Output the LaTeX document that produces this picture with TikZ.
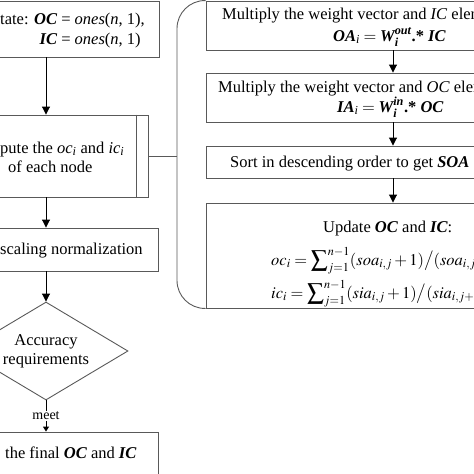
\documentclass[tikz,border=0pt]{standalone}
\usepackage{amsmath}
\usepackage{mathptmx}
\usepackage{fontspec}
\setmainfont{Liberation Serif}
\usetikzlibrary{arrows.meta,shapes.geometric}
\newcommand{\bfi}[1]{\textbf{\textit{#1}}}
\begin{document}
\begin{tikzpicture}[x=1pt,y=-1pt,
  font=\fontsize{16.5}{20}\selectfont,
  box/.style={draw=black!65, line width=0.9pt, inner sep=0pt},
  boxline/.style={draw=black!65, line width=0.9pt},
  arr/.style={draw=black, line width=0.9pt, -{Triangle[length=8pt,width=8pt]}},
  sarr/.style={draw=black, line width=0.9pt, -{Triangle[length=5pt,width=6pt]}},
  txt/.style={inner sep=0pt},
  eq/.style={inner sep=0pt, font=\fontsize{16.5}{20}\selectfont}]
\useasboundingbox (0,0) rectangle (474,474);
% left column
\node[box, minimum width=226pt, minimum height=56pt] (b1) at (46,29) {};
\node[box, minimum width=204pt, minimum height=82pt] (b2) at (46,156) {};
\draw[boxline] ([xshift=-12pt]b2.north east) -- ([xshift=-12pt]b2.south east);
\draw[boxline] ([xshift=12pt]b2.north west) -- ([xshift=12pt]b2.south west);
\node[box, minimum width=224pt, minimum height=43pt] (b3) at (46,249.5) {};
\node[box, diamond, minimum width=164pt, minimum height=98pt] (d) at (46,351) {};
\node[box, minimum width=224pt, minimum height=60pt] (b4) at (46,462) {};
% right column
\node[box, minimum width=374pt, minimum height=49pt] (r1) at (393,25.5) {};
\node[box, minimum width=374pt, minimum height=49pt] (r2) at (393,97.5) {};
\node[box, minimum width=374pt, minimum height=32pt] (r3) at (393,162) {};
\node[box, minimum width=374pt, minimum height=105pt] (r4) at (393,255.5) {};
% texts
\node[txt, anchor=north west] (t1) at (0,10) {\begin{tabular}{@{}r@{ }l@{}}tate: \bfi{OC} & = \textit{ones}(\textit{n}, 1),\\ \bfi{IC} & = \textit{ones}(\textit{n}, 1)\end{tabular}};
\node[txt, anchor=base west] (t2a) at (0,153) {pute the \textit{oc}\textsubscript{\textit{i}} and \textit{ic}\textsubscript{\textit{i}}};
\node[txt, anchor=base west] (t2b) at (8,172) {of each node};
\node[txt, anchor=base west] (t3) at (0,254) {scaling normalization};
\node[txt, anchor=base] (td1) at (46,345) {Accuracy};
\node[txt, anchor=base] (td2) at (46,364) {requirements};
\node[txt, anchor=base west] (t4) at (5,458) {the final \bfi{OC} and \bfi{IC}};
\node[txt, anchor=base west] (tr1a) at (222,19) {Multiply the weight vector and \textit{IC} elements};
\node[txt, anchor=base west] (tr1b) at (333,41) {$\text{\bfseries\itshape OA}_{\text{\itshape i}} = \text{\bfseries\itshape W}_{\text{\bfseries\itshape i}}^{\text{\bfseries\itshape out}}\text{\bfseries .* \itshape IC}$};
\node[txt, anchor=base west] (tr2a) at (218,92) {Multiply the weight vector and \textit{OC} elements};
\node[txt, anchor=base west] (tr2b) at (337,112) {$\text{\bfseries\itshape IA}_{\text{\itshape i}} = \text{\bfseries\itshape W}_{\text{\bfseries\itshape i}}^{\text{\bfseries\itshape in}}\text{\bfseries .* \itshape OC}$};
\node[txt, anchor=base west] (tr3) at (230,167) {Sort in descending order to get \bfi{SOA}};
\node[txt, anchor=base west] (tr4a) at (323,232) {Update \bfi{OC} and \bfi{IC}:};
\node[eq, anchor=base west] (tr4b) at (271,265) {$oc_i = \displaystyle\sum\nolimits_{j=1}^{n-1}(soa_{i,j}+1)\big/(soa_{i,j+1}+1)$};
\node[eq, anchor=base west] (tr4c) at (271,298) {$ic_i = \displaystyle\sum\nolimits_{j=1}^{n-1}(sia_{i,j}+1)\big/(sia_{i,j+1}+1)$};
% connectors
\draw[arr] (b1) -- (b2);
\draw[arr] (b2) -- (b3);
\draw[arr] (b3) -- (d);
\draw[sarr] (d) -- node[fill=white, inner sep=1pt, font=\fontsize{14}{16}\selectfont] (meet) {meet} (b4);
\draw[arr] (r1) -- (r2);
\draw[arr] (r2) -- (r3);
\draw[arr] (r3) -- (r4);
\coordinate (bk) at (177,156);
\draw[boxline] (b2.east) -- (bk);
\draw[boxline, rounded corners=28pt] (r1.north west) -| (bk) |- (r4.south west);
\end{tikzpicture}
\end{document}
